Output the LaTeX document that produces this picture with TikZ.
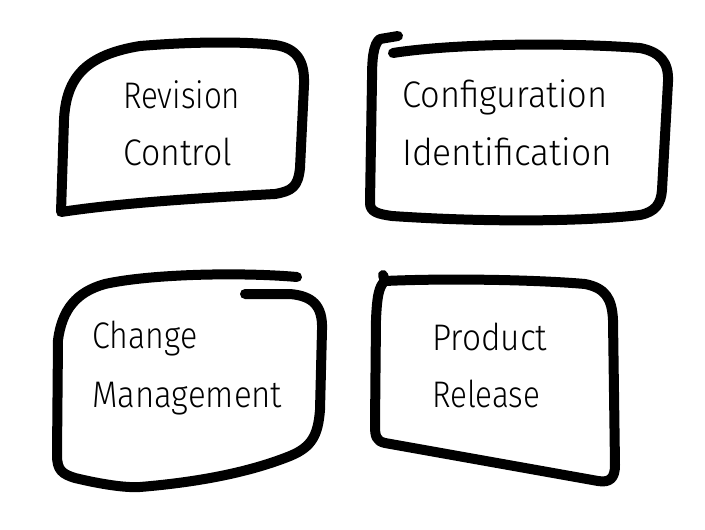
\documentclass[tikz,border=0pt]{standalone}
\usepackage{fontspec}
\usepackage{graphicx}
\newfontfamily\hand{Fira Sans Light}
\newcommand{\hw}[2]{\resizebox{#1pt}{\height}{#2}}
\tikzset{
  sketch/.style={draw=black, line width=10pt, line cap=round, line join=round},
  lbl/.style={anchor=base west, inner sep=0pt, font=\hand\fontsize{37}{40}\selectfont}
}
\begin{document}
\begin{tikzpicture}[x=1pt,y=-1pt]
\useasboundingbox (0,0) rectangle (705,530);
\fill[white] (0,0) rectangle (705,530);
% Box 1: Revision Control
\draw[sketch] (61,212) -- (64,120) .. controls (66,78) and (85,55) .. (140,46)
  .. controls (200,41) and (250,42) .. (275,45)
  .. controls (296,48) and (305,60) .. (304,85) -- (300,168)
  .. controls (298,187) and (292,191) .. (275,194)
  .. controls (200,198) and (120,203) .. (61,212) -- cycle;
% Box 2: Configuration Identification
\draw[sketch] (398,36) -- (380,39) .. controls (373,44) and (372,60) .. (372,80)
  -- (370,203) .. controls (370,212) and (378,214) .. (392,216)
  .. controls (480,222) and (580,222) .. (640,215)
  .. controls (655,212) and (661,204) .. (662,190) -- (668,82)
  .. controls (669,62) and (660,52) .. (640,48)
  .. controls (560,42) and (450,44) .. (393,53);
% Box 3: Change Management
\draw[sketch] (297,277) .. controls (240,272) and (150,274) .. (105,284)
  .. controls (76,292) and (62,310) .. (58,340) -- (57,455)
  .. controls (57,470) and (62,474) .. (75,478)
  .. controls (100,484) and (125,488) .. (140,487)
  .. controls (200,482) and (250,472) .. (290,456)
  .. controls (312,447) and (318,435) .. (320,410) -- (322,330)
  .. controls (323,305) and (312,296) .. (290,294) -- (245,294);
% Box 4: Product Release
\draw[sketch] (383,275) -- (385,281) .. controls (450,278) and (540,280) .. (585,284)
  .. controls (605,288) and (612,298) .. (613,320) -- (615,465)
  .. controls (615,478) and (610,483) .. (598,481)
  -- (385,443) .. controls (376,441) and (375,436) .. (375,425)
  -- (376,320) .. controls (377,296) and (379,286) .. (385,281);
% Labels
\node[lbl] (rev)  at (123,108) {\hw{117}{Revision}};
\node[lbl] (ctl)  at (123,165) {\hw{109}{Control}};
\node[lbl] (cfg)  at (402,107) {\hw{205}{Configuration}};
\node[lbl] (ident) at (402,165) {\hw{210}{Identification}};
\node[lbl] (chg)  at (92,348) {\hw{105}{Change}};
\node[lbl] (mgmt) at (92,407) {\hw{190}{Management}};
\node[lbl] (prod) at (432,350) {\hw{115}{Product}};
\node[lbl] (rel)  at (432,407) {\hw{108}{Release}};
\end{tikzpicture}
\end{document}
